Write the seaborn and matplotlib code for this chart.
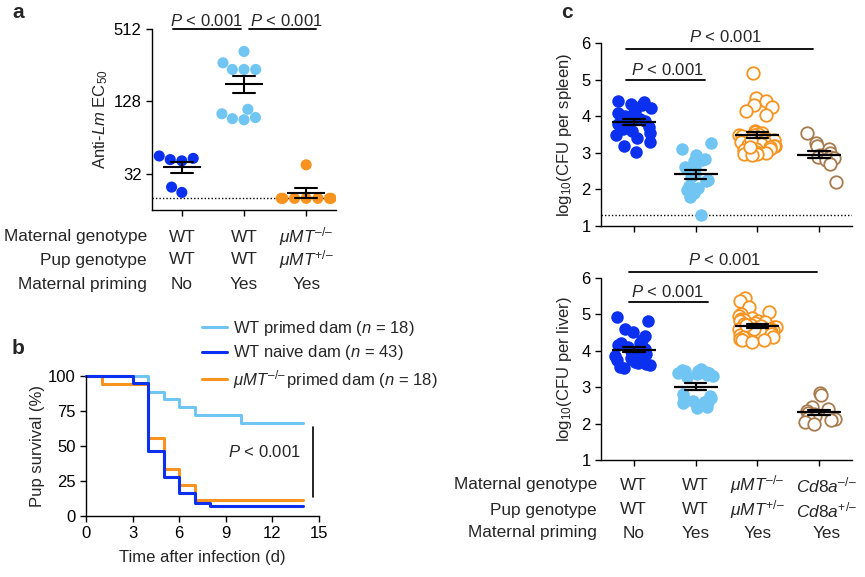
import numpy as np
import pandas as pd
import matplotlib
matplotlib.use('Agg')
import matplotlib.pyplot as plt
import matplotlib.transforms as mtransforms
from matplotlib.lines import Line2D
import seaborn as sns

# ---------------- data ----------------
order_a = ['WT naive', 'WT primed', 'uMT primed']
ec50_wt_naive = [41, 43, 42, 45, 22.4, 24.8]
ec50_wt_primed = [333, 268, 236, 236, 236, 110, 92, 94, 101, 90]
ec50_umt_primed = [38, 20, 20, 20, 20, 20, 20, 20]

surv_primed_t = [0, 4, 5, 6, 7, 10, 14]
surv_primed = [100, 88.9, 83.3, 77.8, 72.2, 66.7, 66.7]
surv_naive_t = [0, 3, 4, 5, 6, 7, 8, 14]
surv_naive = [100, 95.3, 46.5, 27.9, 16.3, 9.3, 7.0, 7.0]
surv_umt_t = [0, 1, 4, 5, 6, 7, 14]
surv_umt = [100, 94.4, 55.6, 33.3, 22.2, 11.1, 11.1]

order_c = ['WT naive', 'WT primed', 'uMT primed', 'Cd8a primed']
spleen_wt_naive = [4.42, 4.40, 4.33, 4.30, 4.22, 4.15, 4.12, 4.08, 4.02, 3.98, 3.92, 3.88,
                   3.85, 3.80, 3.78, 3.72, 3.65, 3.60, 3.55, 3.50, 3.42, 3.30, 3.20, 3.02]
spleen_wt_primed = [3.27, 3.12, 2.93, 2.82, 2.80, 2.78, 2.62, 2.58, 2.50, 2.42, 2.35, 2.26,
                    2.22, 2.10, 2.05, 1.98, 1.90, 1.78, 1.30]
spleen_umt = [5.20, 4.50, 4.42, 4.30, 4.25, 4.15, 4.05,
              3.60, 3.58, 3.55, 3.52, 3.50, 3.48, 3.45, 3.42, 3.40, 3.38, 3.35, 3.32, 3.30,
              3.28, 3.25, 3.22, 3.20, 3.18, 3.15, 3.12, 3.10, 3.08, 3.05, 3.02, 3.00, 2.98,
              2.96, 2.95, 3.35, 3.15]
spleen_cd8a = [3.55, 3.28, 3.20, 3.10, 3.00, 2.95, 2.90, 2.88, 2.85, 2.80, 2.70, 2.20]

liver_wt_naive = [4.92, 4.80, 4.60, 4.50, 4.40, 4.30, 4.22, 4.20, 4.15, 4.10, 4.05, 4.00,
                  3.98, 3.95, 3.90, 3.88, 3.85, 3.80, 3.78, 3.75, 3.70, 3.65, 3.62, 3.60,
                  3.55, 3.52]
liver_wt_primed = [3.50, 3.48, 3.45, 3.45, 3.42, 3.40, 3.38, 3.38, 3.35, 3.32, 3.30, 3.28,
                   2.80, 2.75, 2.70, 2.68, 2.62, 2.60, 2.58, 2.55, 2.50, 2.45, 2.42]
liver_umt = [5.45, 5.35, 5.20, 5.05, 5.00, 4.95, 4.90, 4.88, 4.85, 4.82, 4.80, 4.78, 4.75,
             4.72, 4.70, 4.68, 4.66, 4.64, 4.62, 4.60, 4.58, 4.56, 4.54, 4.52, 4.50, 4.48,
             4.46, 4.44, 4.42, 4.40, 4.38, 4.36, 4.33, 4.30, 4.28, 4.25, 4.60, 4.70]
liver_cd8a = [2.85, 2.78, 2.45, 2.40, 2.35, 2.30, 2.25, 2.20, 2.15, 2.12, 2.10, 2.05, 2.00]

row_labels = ['Maternal genotype', 'Pup genotype', 'Maternal priming']
table_a = [['WT', 'WT', r'$\mu MT^{–/–}$'],
           ['WT', 'WT', r'$\mu MT^{+/–}$'],
           ['No', 'Yes', 'Yes']]
table_c = [['WT', 'WT', r'$\mu MT^{–/–}$', r'$\mathit{Cd8a}^{–/–}$'],
           ['WT', 'WT', r'$\mu MT^{+/–}$', r'$\mathit{Cd8a}^{+/–}$'],
           ['No', 'Yes', 'Yes', 'Yes']]
legend_b = [r'WT primed dam ($n$ = 18)', r'WT naive dam ($n$ = 43)',
            r'$\mu MT^{–/–}\,$primed dam ($n$ = 18)']

# ---------------- style ----------------
sns.set_style('ticks')
plt.rcParams['font.family'] = ['Liberation Sans', 'DejaVu Sans']
plt.rcParams['mathtext.fontset'] = 'custom'
plt.rcParams['mathtext.rm'] = 'Liberation Sans'
plt.rcParams['mathtext.it'] = 'Liberation Sans:italic'
plt.rcParams['mathtext.bf'] = 'Liberation Sans:bold'
plt.rcParams['axes.linewidth'] = 1.0
FS = 12
FT = 12.4

DARK = '#0b30f0'
LIGHT = '#70c5f3'
ORANGE = '#f7931e'
BROWN = '#a87b4f'

W, H = 865, 577
fig = plt.figure(figsize=(W / 100, H / 100), dpi=100)


def rect(l, t, r, b):
    return [l / W, 1 - b / H, (r - l) / W, (b - t) / H]


def style_ax(ax):
    sns.despine(ax=ax)
    ax.tick_params(direction='out', length=4, width=1, labelsize=FS, colors='black')
    for s in ['left', 'bottom']:
        ax.spines[s].set_color('black')


def pline(ax, x0, x1, y, ty, tx):
    ax.plot([x0, x1], [y, y], color='black', lw=1.3, clip_on=False)
    ax.text(tx, ty, r'$P$ < 0.001', ha='center', va='center', fontsize=FS, clip_on=False)


# ---------------- panel a ----------------
ax_a = fig.add_axes(rect(152, 29, 336, 210))
df_a = pd.DataFrame({
    'group': ['WT naive'] * len(ec50_wt_naive) + ['WT primed'] * len(ec50_wt_primed)
             + ['uMT primed'] * len(ec50_umt_primed),
    'value': ec50_wt_naive + ec50_wt_primed + ec50_umt_primed})
sns.swarmplot(data=df_a, x='group', y='value', hue='group', order=order_a, hue_order=order_a,
              palette=[DARK, LIGHT, ORANGE], size=8, linewidth=0, legend=False, ax=ax_a,
              warn_thresh=1, zorder=2)
sns.pointplot(data=df_a, x='group', y='value', order=order_a, errorbar='se', color='black',
              markers='_', linestyles='none', markersize=28, markeredgewidth=1.5,
              capsize=0.35, err_kws={'linewidth': 1.5}, ax=ax_a, zorder=4)
ax_a.set_yscale('log', base=2)
ax_a.set_ylim(16, 512)
ax_a.set_yticks([32, 128, 512])
ax_a.set_yticklabels(['32', '128', '512'])
ax_a.minorticks_off()
ax_a.set_xlim(-0.48, 2.48)
ax_a.set_xticks([0, 1, 2])
ax_a.set_xticklabels([])
ax_a.set_xlabel('')
ax_a.set_ylabel(r'Anti-$\mathit{Lm}$ EC$_{50}$', fontsize=FS, labelpad=3)
ax_a.axhline(20, color='black', lw=1, ls=(0, (1, 1.5)), zorder=1)
style_ax(ax_a)
pline(ax_a, -0.15, 0.95, 512, 600, 0.40)
pline(ax_a, 1.08, 2.16, 512, 600, 1.68)

tr_a = mtransforms.blended_transform_factory(ax_a.transData, fig.transFigure)
rows_y_a = [237, 260, 284]
for r, ylab in enumerate(row_labels):
    fig.text(147 / W, 1 - rows_y_a[r] / H, ylab, ha='right', va='center', fontsize=FT)
    for c, txt in enumerate(table_a[r]):
        fig.text(c, 1 - rows_y_a[r] / H, txt, ha='center', va='center', fontsize=FT,
                 transform=tr_a)

# ---------------- panel b ----------------
ax_b = fig.add_axes(rect(86, 376, 319, 516))
df_b1 = pd.DataFrame({'t': surv_primed_t, 's': surv_primed})
df_b2 = pd.DataFrame({'t': surv_umt_t, 's': surv_umt})
df_b3 = pd.DataFrame({'t': surv_naive_t, 's': surv_naive})
sns.lineplot(data=df_b1, x='t', y='s', color=LIGHT, lw=2.2, drawstyle='steps-post',
             ax=ax_b, clip_on=False)
sns.lineplot(data=df_b2, x='t', y='s', color=ORANGE, lw=2.2, drawstyle='steps-post',
             ax=ax_b, clip_on=False)
sns.lineplot(data=df_b3, x='t', y='s', color=DARK, lw=2.2, drawstyle='steps-post',
             ax=ax_b, clip_on=False)
ax_b.set_xlim(0, 15)
ax_b.set_ylim(0, 100)
ax_b.set_xticks([0, 3, 6, 9, 12, 15])
ax_b.set_yticks([0, 25, 50, 75, 100])
ax_b.set_xlabel('Time after infection (d)', fontsize=FS, labelpad=6)
ax_b.set_ylabel('Pup survival (%)', fontsize=FS, labelpad=2)
style_ax(ax_b)
ax_b.plot([14.6, 14.6], [13.6, 63.6], color='black', lw=1.2, clip_on=False)
ax_b.text(11.5, 45.7, r'$P$ < 0.001', ha='center', va='center', fontsize=FS)
handles = [Line2D([], [], color=LIGHT, lw=2.2), Line2D([], [], color=DARK, lw=2.2),
           Line2D([], [], color=ORANGE, lw=2.2)]
fig.legend(handles, legend_b, loc='upper left', bbox_to_anchor=(202 / W, 1 - 319 / H),
           frameon=False, fontsize=FS, handlelength=1.5, handletextpad=0.35,
           labelspacing=0.32, borderaxespad=0, borderpad=0)

# ---------------- panel c ----------------
np.random.seed(7)


def cfu_panel(ax, groups, ylabel):
    cols = [DARK, LIGHT, ORANGE, BROWN]
    frames = []
    for i, (name, vals) in enumerate(zip(order_c, groups)):
        n_before = len(ax.collections)
        sns.stripplot(x=[name] * len(vals), y=vals, order=order_c, color=cols[i], size=9,
                      jitter=0.3, linewidth=0, ax=ax, zorder=2)
        if i >= 2:
            for coll in ax.collections[n_before:]:
                coll.set_facecolor('white')
                coll.set_edgecolor(cols[i])
                coll.set_linewidth(1.3)
        frames.append(pd.DataFrame({'group': name, 'value': vals}))
    df = pd.concat(frames, ignore_index=True)
    sns.pointplot(data=df, x='group', y='value', order=order_c, errorbar='se', color='black',
                  markers='_', linestyles='none', markersize=31, markeredgewidth=1.6,
                  capsize=0.35, err_kws={'linewidth': 1.6}, ax=ax, zorder=5)
    ax.set_xlim(-0.53, 3.53)
    ax.set_ylim(1, 6)
    ax.set_yticks([1, 2, 3, 4, 5, 6])
    ax.set_xticks([0, 1, 2, 3])
    ax.set_xticklabels([])
    ax.set_xlabel('')
    ax.set_ylabel(ylabel, fontsize=FS, labelpad=5)
    style_ax(ax)


ax_c1 = fig.add_axes(rect(601, 43.3, 852, 226))
cfu_panel(ax_c1, [spleen_wt_naive, spleen_wt_primed, spleen_umt, spleen_cd8a],
          r'log$_{10}$(CFU per spleen)')
ax_c1.axhline(1.3, color='black', lw=1, ls=(0, (1, 1.5)), zorder=1)
pline(ax_c1, -0.13, 2.9, 5.84, 6.17, 1.49)
pline(ax_c1, -0.13, 1.15, 4.99, 5.27, 0.55)

ax_c2 = fig.add_axes(rect(601, 277.7, 852, 460))
cfu_panel(ax_c2, [liver_wt_naive, liver_wt_primed, liver_umt, liver_cd8a],
          r'log$_{10}$(CFU per liver)')
pline(ax_c2, -0.08, 2.97, 6.17, 6.49, 1.47)
pline(ax_c2, -0.08, 1.2, 5.34, 5.62, 0.55)

tr_c = mtransforms.blended_transform_factory(ax_c2.transData, fig.transFigure)
rows_y_c = [485, 510, 533]
col_shift = [0, 0, 0, 0.12]
for r, ylab in enumerate(row_labels):
    fig.text(597 / W, 1 - rows_y_c[r] / H, ylab, ha='right', va='center', fontsize=FT)
    for c, txt in enumerate(table_c[r]):
        fig.text(c + col_shift[c], 1 - rows_y_c[r] / H, txt, ha='center', va='center',
                 fontsize=FT, transform=tr_c)

# panel letters
fig.text(12 / W, 1 - 12 / H, 'a', fontsize=15, fontweight='bold', va='center', ha='left')
fig.text(12 / W, 1 - 349 / H, 'b', fontsize=15, fontweight='bold', va='center', ha='left')
fig.text(561 / W, 1 - 12 / H, 'c', fontsize=15, fontweight='bold', va='center', ha='left')

fig.savefig('out.png', dpi=100)
